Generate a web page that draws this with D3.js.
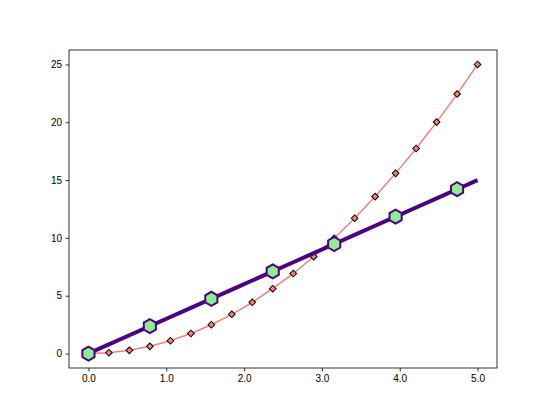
<!DOCTYPE html>
<html><head><meta charset="utf-8">
<script src="https://cdn.jsdelivr.net/npm/d3@7"></script>
<style>body{margin:0;background:#fff}svg{font-family:"DejaVu Sans",sans-serif}</style>
</head><body><svg id="c" width="552" height="414"></svg>
<script>
const xs = [0,0.263,0.526,0.789,1.053,1.316,1.579,1.842,2.105,2.368,2.632,2.895,3.158,3.421,3.684,3.947,4.211,4.474,4.737,5];
const linearY = [0,0.789,1.579,2.368,3.158,3.947,4.737,5.526,6.316,7.105,7.895,8.684,9.474,10.263,11.053,11.842,12.632,13.421,14.211,15];
const squareY = [0,0.069,0.277,0.623,1.108,1.731,2.493,3.393,4.432,5.609,6.925,8.380,9.972,11.704,13.573,15.582,17.729,20.014,22.438,25];
const xTicks = [0,1,2,3,4,5];
const yTicks = [0,5,10,15,20,25];
const markEvery = 3;

const svg = d3.select("#c");
const L=69,R=497,T=50,B=368;
const x = d3.scaleLinear().domain([-0.25,5.25]).range([L,R]);
const y = d3.scaleLinear().domain([-1.25,26.25]).range([B,T]);

const line = d3.line().x(d=>x(d[0])).y(d=>y(d[1]));
const sq = xs.map((v,i)=>[v,squareY[i]]);
const lin = xs.map((v,i)=>[v,linearY[i]]);

svg.append("path").attr("d",line(sq)).attr("fill","none").attr("stroke","#f08080").attr("stroke-width",1.5);
svg.selectAll(".dm").data(sq).enter().append("path")
  .attr("d",d3.symbol(d3.symbolDiamond2? d3.symbolSquare:d3.symbolSquare,40)())
  .attr("transform",d=>`translate(${x(d[0])},${y(d[1])}) rotate(45) scale(0.75,0.75)`)
  .attr("fill","#fa8072").attr("stroke","#000").attr("stroke-width",1.3);

svg.append("path").attr("d",line(lin)).attr("fill","none").attr("stroke","#4b0082").attr("stroke-width",4);
const hex = d3.range(6).map(k=>{const a=Math.PI/3*k+Math.PI/6;return [7*Math.cos(a),7*Math.sin(a)];});
svg.selectAll(".hx").data(lin.filter((d,i)=>i%markEvery===0)).enter().append("polygon")
  .attr("points",hex.map(p=>p.join(",")).join(" "))
  .attr("transform",d=>`translate(${x(d[0])},${y(d[1])})`)
  .attr("fill","#90ee90").attr("stroke","#4b0082").attr("stroke-width",2);

svg.append("rect").attr("x",L).attr("y",T).attr("width",R-L).attr("height",B-T).attr("fill","none").attr("stroke","#000").attr("stroke-width",0.8);
const xa = svg.append("g").attr("transform",`translate(0,${B})`).call(d3.axisBottom(x).tickValues(xTicks).tickSize(3.5).tickPadding(3.5));
const ya = svg.append("g").attr("transform",`translate(${L},0)`).call(d3.axisLeft(y).tickValues(yTicks).tickSize(3.5).tickPadding(3.5));
[xa,ya].forEach(a=>{a.select(".domain").remove();a.selectAll("text").attr("font-size",10).attr("fill","#000");a.selectAll("line").attr("stroke","#000").attr("stroke-width",0.8);});
</script></body></html>
